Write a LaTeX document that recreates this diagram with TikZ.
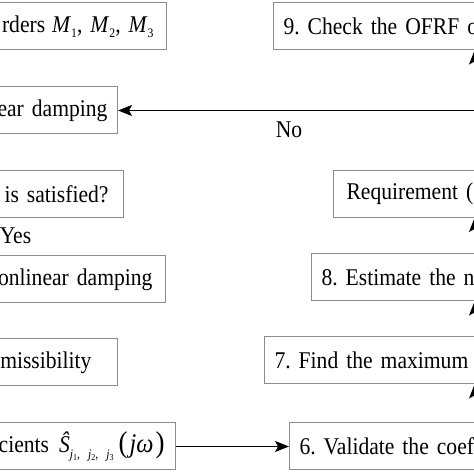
\documentclass[tikz,border=0pt]{standalone}
\usepackage{fontspec}
\setmainfont{Liberation Serif}[FakeStretch=0.9]
\usetikzlibrary{arrows.meta}
\definecolor{boxgrey}{RGB}{140,140,140}
\newcommand{\msub}[1]{\lower5pt\hbox{\fontsize{13}{13}\selectfont #1}}
\newcommand{\jsub}[1]{\textit{j}\lower2pt\hbox{\fontsize{9}{9}\selectfont #1}}
\frenchspacing
\begin{document}
\begin{tikzpicture}[x=1pt,y=1pt,
  box/.style={draw=boxgrey, line width=1pt, rectangle, minimum height=47pt, inner ysep=0pt,
    font=\fontsize{24}{26}\selectfont},
  lbox/.style={box, anchor=east, align=right, text width=300pt},
  rbox/.style={box, anchor=west, align=left},
  arr/.style={-{Stealth[length=14pt,width=11pt,inset=3pt]}, line width=1.2pt, black},
  lab/.style={font=\fontsize{24}{26}\selectfont, inner sep=0pt}]
\useasboundingbox (0,0) rectangle (474,474);
\clip (0,0) rectangle (474,474);
% left column
\node[lbox, inner xsep=13pt] (L1) at (167,447.5) {rders\hspace{7pt}\textit{M}\msub{1}, \textit{M}\msub{2}, \textit{M}\msub{3}};
\node[lbox, inner xsep=10pt] (L2) at (118,363.5) {ear damping};
\node[lbox, inner xsep=15pt] (L3) at (124,279.5) {e is satisfied?};
\node[lbox, inner xsep=13pt] (L4) at (166,194.5) {onlinear damping};
\node[lbox, inner xsep=26pt] (L5) at (118,111.5) {missibility};
\node[lbox, inner xsep=11pt] (L6) at (176,27.5) {cients\hspace{10pt}\textit{Ŝ}\lower6pt\hbox{\fontsize{13}{13}\selectfont\jsub{1}, \jsub{2}, \jsub{3}}\hspace{5pt}{\fontsize{30}{30}\selectfont(}\hspace{2pt}{\fontsize{27}{27}\selectfont\textit{jω}}\hspace{2pt}{\fontsize{30}{30}\selectfont)}};
% right column
\node[rbox, inner xsep=10pt, text width=382pt] (R9) at (273,447.5) {9. Check the OFRF of};
\node[rbox, inner xsep=13pt, text width=256pt] (Rq) at (333,280) {Requirement (};
\node[rbox, inner xsep=10pt, text width=306pt] (R8) at (311,196.5) {8. Estimate the nonlinear};
\node[rbox, inner xsep=10pt, text width=400pt] (R7) at (264,113.5) {7. Find the maximum fr};
\node[rbox, inner xsep=10pt, text width=350pt] (R6) at (289,27.5) {6. Validate the coeffi};
% labels
\node[lab] (no) at (289,344) {No};
\node[lab] (yes) at (15.5,238) {Yes};
% connectors
\draw[arr] (L6.east) -- (R6.west);
\draw[arr] (R6.north) -- (R7.south);
\draw[arr] (R7.north) -- (R8.south);
\draw[arr] (R8.north) -- (Rq.south);
\draw[arr] (Rq.north) -- (R9.south);
\coordinate (br) at (R9.south |- L2.east);
\draw[arr] (br) -- (L2.east);
\end{tikzpicture}
\end{document}
